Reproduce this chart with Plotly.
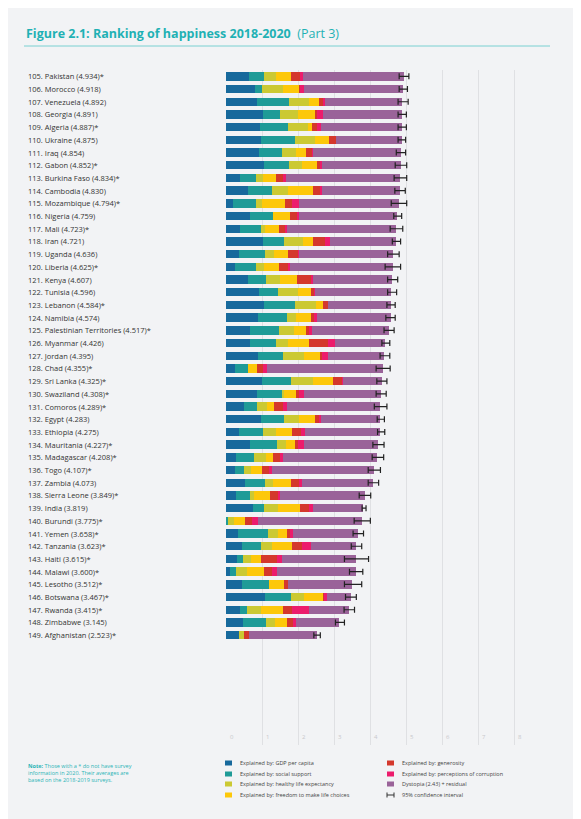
import plotly.graph_objects as go

ranks = list(range(105, 150))
names = ["Pakistan (4.934)*","Morocco (4.918)","Venezuela (4.892)","Georgia (4.891)","Algeria (4.887)*",
"Ukraine (4.875)","Iraq (4.854)","Gabon (4.852)*","Burkina Faso (4.834)*","Cambodia (4.830)",
"Mozambique (4.794)*","Nigeria (4.759)","Mali (4.723)*","Iran (4.721)","Uganda (4.636)",
"Liberia (4.625)*","Kenya (4.607)","Tunisia (4.596)","Lebanon (4.584)*","Namibia (4.574)",
"Palestinian Territories (4.517)*","Myanmar (4.426)","Jordan (4.395)","Chad (4.355)*","Sri Lanka (4.325)*",
"Swaziland (4.308)*","Comoros (4.289)*","Egypt (4.283)","Ethiopia (4.275)","Mauritania (4.227)*",
"Madagascar (4.208)*","Togo (4.107)*","Zambia (4.073)","Sierra Leone (3.849)*","India (3.819)",
"Burundi (3.775)*","Yemen (3.658)*","Tanzania (3.623)*","Haiti (3.615)*","Malawi (3.600)*",
"Lesotho (3.512)*","Botswana (3.467)*","Rwanda (3.415)*","Zimbabwe (3.145)","Afghanistan (2.523)*"]

gdp = [.64,.81,.86,1.03,.94,.97,.92,1.06,.39,.61,.19,.67,.39,1.03,.36,.25,.61,.92,1.06,.89,.67,.67,.89,.25,1.0,.86,.5,.97,.36,.67,.28,.25,.53,.28,.75,.01,.33,.44,.31,.11,.44,1.08,.39,.47,.36]
social = [.42,.19,.89,.47,.78,.94,.64,.69,.44,.67,.64,.64,.58,.58,.72,.58,.5,.53,.86,.81,.81,.72,.69,.36,.81,.69,.36,.64,.67,.75,.5,.25,.56,.39,.31,.05,.83,.53,.17,.17,.75,.72,.19,.64,0]
health = [.33,.58,.56,.50,.56,.56,.39,.36,.19,.44,.17,0,.11,.53,.25,.22,.39,.56,.58,.25,.42,.33,.58,0,.61,.06,.28,.42,.36,.25,.33,.19,.22,.11,.39,.17,.28,.31,.22,.31,0,.36,.39,.25,.14]
freedom = [.42,.47,.28,.47,.11,.39,.28,.42,.36,.69,.64,.47,.39,.28,.39,.42,.47,.36,.19,.42,.33,.58,.44,.25,.56,.33,.19,.44,.44,.25,.19,.31,.5,.44,.61,.31,.25,.56,.28,.47,.42,.56,.61,.33,0]
generosity = [.24,.01,.11,.06,.14,.19,.17,.08,.19,.19,.19,.19,.19,.33,.28,.25,.39,.08,.14,.08,.08,.53,.08,.17,.25,.08,.25,.11,.25,.08,.19,.19,.22,.22,.25,.17,.08,.28,.44,.22,.11,.01,.25,.17,.14]
corruption = [.09,.10,.06,.17,.11,0,.03,.06,.11,.08,.19,.06,.03,.14,.03,.06,.06,.03,0,.08,.08,.19,.14,.11,.03,.14,.11,.06,.11,.17,.08,.08,.08,.06,.11,.19,.08,.25,.14,.14,0,.08,.47,.08,0]
ci_low = [4.81,4.81,4.78,4.78,4.78,4.78,4.73,4.70,4.67,4.69,4.59,4.66,4.56,4.62,4.49,4.42,4.49,4.49,4.47,4.44,4.39,4.33,4.28,4.17,4.19,4.17,4.12,4.20,4.21,4.08,4.06,3.95,3.95,3.70,3.78,3.56,3.53,3.48,3.29,3.43,3.29,3.32,3.28,3.04,2.44]
ci_high = [5.08,5.04,5.06,5.01,5.01,4.99,4.99,5.02,5.02,4.98,5.02,4.88,4.91,4.85,4.81,4.85,4.77,4.74,4.70,4.70,4.67,4.55,4.55,4.56,4.47,4.45,4.47,4.40,4.41,4.39,4.38,4.29,4.24,4.02,3.89,4.01,3.82,3.77,3.96,3.80,3.77,3.62,3.57,3.29,2.62]
scores = [4.934,4.918,4.892,4.891,4.887,4.875,4.854,4.852,4.834,4.830,4.794,4.759,4.723,4.721,4.636,4.625,4.607,4.596,4.584,4.574,4.517,4.426,4.395,4.355,4.325,4.308,4.289,4.283,4.275,4.227,4.208,4.107,4.073,3.849,3.819,3.775,3.658,3.623,3.615,3.600,3.512,3.467,3.415,3.145,2.523]

sums = [g+s+h+f+e+c for g,s,h,f,e,c in zip(gdp,social,health,freedom,generosity,corruption)]
dystopia = [max(sc - sm, 0) for sc, sm in zip(scores, sums)]

series = [("Explained by: GDP per capita", gdp, "#17699c"),
          ("Explained by: social support", social, "#1f9b97"),
          ("Explained by: healthy life expectancy", health, "#cbc933"),
          ("Explained by: freedom to make life choices", freedom, "#fdc80a"),
          ("Explained by: generosity", generosity, "#d4382c"),
          ("Explained by: perceptions of corruption", corruption, "#ec1c6c"),
          ("Dystopia (2.43) + residual", dystopia, "#9a6399")]

OFF = 8
W, H = 581 - OFF, 819 - OFF
def px(x): return (x - OFF) / W
def py(y): return 1 - (y - OFF) / H

y = list(range(len(names)))
fig = go.Figure()
for nm, vals, col in series:
    fig.add_trace(go.Bar(x=vals, y=y, orientation="h", marker=dict(color=col, line=dict(width=0)),
                         width=0.66, name=nm, showlegend=False))
fig.add_trace(go.Scatter(x=scores, y=y, mode="markers", marker=dict(size=0.1, color="rgba(0,0,0,0)"),
                         error_x=dict(type="data", symmetric=False,
                                      array=[h - s for h, s in zip(ci_high, scores)],
                                      arrayminus=[s - l for s, l in zip(scores, ci_low)],
                                      color="#222", thickness=1.2, width=3),
                         showlegend=False, hoverinfo="skip"))

top, bot = 70, 745
pitch = 12.7
nrows = (bot - top) / pitch
fig.update_layout(width=W, height=H, barmode="stack", margin=dict(l=0, r=0, t=0, b=0),
                  paper_bgcolor="#f2f3f5", plot_bgcolor="#f2f3f5", bargap=0,
                  xaxis=dict(domain=[px(226), px(550)], range=[0, 9], tickvals=list(range(10)), showticklabels=False,
                             showgrid=True, gridcolor="#dfe0e3", gridwidth=1, zeroline=False, fixedrange=True),
                  yaxis=dict(domain=[py(bot), py(top)], range=[nrows - 0.5, -0.5],
                             showticklabels=False, showgrid=False, zeroline=False))

ann = []
for i, (r, n) in enumerate(zip(ranks, names)):
    ann.append(dict(x=px(26), xref="paper", y=i, yref="y", text=f"{r}. {n}", showarrow=False,
                    xanchor="left", yanchor="middle", font=dict(size=7.5, color="#333", family="Open Sans")))
for t in range(9):
    ann.append(dict(x=t + 0.05, xref="x", y=py(737), yref="paper", text=str(t), showarrow=False,
                    xanchor="left", yanchor="middle", font=dict(size=6, color="#c8c8cc", family="Open Sans")))
ann.append(dict(x=px(24), xref="paper", y=py(33), yref="paper", showarrow=False, xanchor="left", yanchor="middle",
                text="<b>Figure 2.1: Ranking of happiness 2018-2020</b>  (Part 3)",
                font=dict(size=12.5, color="#1fb1b4", family="Open Sans")))
ann.append(dict(x=px(26), xref="paper", y=py(773), yref="paper", showarrow=False, xanchor="left", yanchor="middle",
                align="left",
                text="<b>Note:</b> Those with a * do not have survey<br>information in 2020. Their averages are<br>based on the 2018-2019 surveys.",
                font=dict(size=5.5, color="#2bb3b6", family="Open Sans")))
shapes = [dict(type="line", xref="paper", yref="paper", x0=px(24), x1=px(550), y0=py(46), y1=py(46),
               line=dict(color="#5cc6c8", width=0.8))]
leg = [(225, 763, 0), (225, 774, 1), (225, 784, 2), (225, 795, 3), (387, 763, 4), (387, 774, 5), (387, 784, 6)]
for lx, ly, k in leg:
    shapes.append(dict(type="rect", xref="paper", yref="paper", x0=px(lx), x1=px(lx + 7),
                       y0=py(ly + 2.5), y1=py(ly - 2.5), fillcolor=series[k][2], line=dict(width=0)))
    ann.append(dict(x=px(lx + 13), xref="paper", y=py(ly), yref="paper", text=series[k][0], showarrow=False,
                    xanchor="left", yanchor="middle", font=dict(size=5.5, color="#444", family="Open Sans")))
ly = 795
shapes += [dict(type="line", xref="paper", yref="paper", x0=px(387), x1=px(394), y0=py(ly), y1=py(ly), line=dict(color="#333", width=1)),
           dict(type="line", xref="paper", yref="paper", x0=px(387), x1=px(387), y0=py(ly - 2.5), y1=py(ly + 2.5), line=dict(color="#333", width=1)),
           dict(type="line", xref="paper", yref="paper", x0=px(394), x1=px(394), y0=py(ly - 2.5), y1=py(ly + 2.5), line=dict(color="#333", width=1))]
ann.append(dict(x=px(400), xref="paper", y=py(ly), yref="paper", text="95% confidence interval", showarrow=False,
                xanchor="left", yanchor="middle", font=dict(size=5.5, color="#444", family="Open Sans")))
fig.update_layout(annotations=ann, shapes=shapes)
fig.write_html("out.html")
